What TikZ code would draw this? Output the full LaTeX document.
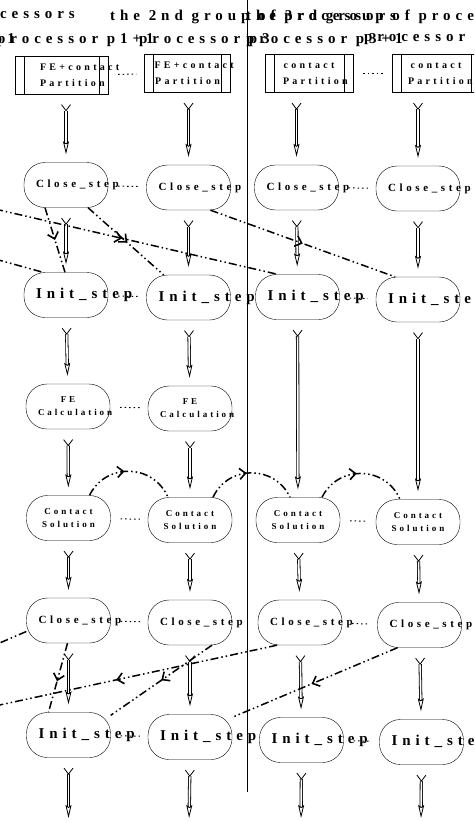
\documentclass[tikz,border=0pt]{standalone}
\usepackage{fontspec}
\setmainfont{Liberation Serif}
\newfontfamily\spacedfont[LetterSpace=33]{Liberation Serif}
\usetikzlibrary{arrows.meta,decorations.markings}
\hyphenpenalty=10000
\exhyphenpenalty=10000

\begin{document}
\begin{tikzpicture}[x=1pt, y=-1pt,
    head/.style={inner sep=0pt, font=\spacedfont\bfseries\fontsize{15}{18}\selectfont},
    procbox/.style={draw, rectangle, minimum height=38pt, minimum width=86pt,
        text width=66pt, inner xsep=10pt, inner ysep=0pt, align=center,
        font=\spacedfont\bfseries\fontsize{10}{16}\selectfont,
        path picture={
            \draw ([xshift=9pt]path picture bounding box.north west) -- ([xshift=9pt]path picture bounding box.south west);
            \draw ([xshift=-9pt]path picture bounding box.north east) -- ([xshift=-9pt]path picture bounding box.south east);}},
    stage/.style={draw, rectangle, rounded corners=21pt, minimum height=45pt,
        text width=60pt, inner xsep=12pt, inner ysep=0pt, align=center},
    closenode/.style={stage, font=\spacedfont\bfseries\fontsize{11}{13}\selectfont},
    initnode/.style={stage, font=\spacedfont\bfseries\fontsize{15}{17}\selectfont},
    calcnode/.style={stage, font=\spacedfont\bfseries\fontsize{9}{13}\selectfont},
    flow/.style={double, double distance=1.6pt, line width=0.8pt, shorten <=10pt, shorten >=8pt,
        {Straight Barb[reversed,length=6pt,width=9pt]}-{Stealth[open,length=13pt,width=6pt,inset=2pt]}},
    msgline/.style={line width=1.5pt, dash pattern=on 8pt off 3pt on 1.5pt off 3pt on 1.5pt off 3pt},
    msg/.style={msgline, postaction={decorate}, decoration={markings,
        mark=at position #1 with {\arrow[line width=1.6pt]{Straight Barb[length=6pt,width=11pt]}}}},
    msg/.default=0.5,
    gap/.style={line width=1pt, dash pattern=on 1.5pt off 3pt, shorten <=10pt, shorten >=8pt}]

    \useasboundingbox (0,0) rectangle (474,822);
    \clip (0,0) rectangle (474,822);

    % group and processor headers
    \node[head, anchor=east] (g1) at (75,17) {processors};
    \node[head, anchor=west] (g2) at (110,17) {the 2nd group of processors};
    \node[head, anchor=west] (g3) at (246,17) {the 3rd group of processors};
    \node[head, anchor=east] (p0) at (15,40) {processor p1};
    \node[head, anchor=west] (p1) at (-3,40) {processor p1+1};
    \node[head, anchor=west] (p2) at (139,40) {processor p3};
    \node[head, anchor=west] (p3) at (246,40) {processor p3+1};
    \node[head, anchor=west] (p4) at (364,40) {processor};

    % group separator
    \draw (247,0) -- (247,792);

    % partition
    \node[procbox, minimum width=93pt, text width=43pt] (b1) at (61.5,75) {FE+contact\\Partition};
    \node[procbox] (b2) at (187.5,73.5) {FE+contact\\Partition};
    \node[procbox, minimum width=88pt, text width=52pt] (b3) at (309,73.5) {contact\\Partition};
    \node[procbox, minimum width=88pt, text width=56pt] (b4) at (436,73.5) {contact\\Partition};

    % first time step
    \node[closenode] (c11) at (66,185) {Close\_step};
    \node[closenode] (c12) at (188.5,187.5) {Close\_step};
    \node[closenode] (c13) at (296.5,187.5) {Close\_step};
    \node[closenode] (c14) at (418,188.5) {Close\_step};
    \node[initnode] (i11) at (66,295) {Init\_step};
    \node[initnode] (i12) at (188.5,297.5) {Init\_step};
    \node[initnode] (i13) at (297.5,297) {Init\_step};
    \node[initnode] (i14) at (418,299.5) {Init\_step};
    \node[calcnode] (f1) at (68,406.5) {FE\\Calculation};
    \node[calcnode] (f2) at (190,408.5) {FE\\Calculation};
    \node[calcnode] (s1) at (68.5,518) {Contact\\Solution};
    \node[calcnode] (s2) at (190,520) {Contact\\Solution};
    \node[calcnode] (s3) at (298,520) {Contact\\Solution};
    \node[calcnode] (s4) at (418,522) {Contact\\Solution};

    % next time step
    \node[closenode] (c21) at (68.5,620.5) {Close\_step};
    \node[closenode] (c22) at (190,622.5) {Close\_step};
    \node[closenode] (c23) at (300,622.5) {Close\_step};
    \node[closenode] (c24) at (419.5,625) {Close\_step};
    \node[initnode] (i21) at (68.5,735) {Init\_step};
    \node[initnode] (i22) at (190,737) {Init\_step};
    \node[initnode] (i23) at (301.5,740) {Init\_step};
    \node[initnode] (i24) at (421.5,742) {Init\_step};

    \coordinate (e1) at (68.5,826);
    \coordinate (e2) at (189,826);
    \coordinate (e3) at (301,826);
    \coordinate (e4) at (421,826);
    \coordinate (w1) at (-5,209);
    \coordinate (w2) at (-5,259);
    \coordinate (w3) at (-5,645);
    \coordinate (w4) at (-5,706);

    % processors of one group
    \draw[gap] (b1) -- (b2);
    \draw[gap] (b3) -- (b4);
    \draw[gap] (c11) -- (c12);
    \draw[gap] (c13) -- (c14);
    \draw[gap] (i11) -- (i12);
    \draw[gap] (i13) -- (i14);
    \draw[gap] (f1) -- (f2);
    \draw[gap] (s1) -- (s2);
    \draw[gap] (s3) -- (s4);
    \draw[gap] (c21) -- (c22);
    \draw[gap] (c23) -- (c24);
    \draw[gap] (i21) -- (i22);
    \draw[gap] (i23) -- (i24);

    % control flow
    \draw[flow] (b1.south -| c11) -- (c11.north);
    \draw[flow] (b2.south -| c12) -- (c12.north);
    \draw[flow] (b3.south -| c13) -- (c13.north);
    \draw[flow] (b4.south -| c14) -- (c14.north);
    \draw[flow] (c11) -- (i11);
    \draw[flow] (c12) -- (i12);
    \draw[flow] (c13) -- (i13);
    \draw[flow] (c14) -- (i14);
    \draw[flow] (i11) -- (f1);
    \draw[flow] (i12) -- (f2);
    \draw[flow] (f1) -- (s1);
    \draw[flow] (f2) -- (s2);
    \draw[flow] (i13) -- (s3);
    \draw[flow] (i14) -- (s4);
    \draw[flow] (s1) -- (c21);
    \draw[flow] (s2) -- (c22);
    \draw[flow] (s3) -- (c23);
    \draw[flow] (s4) -- (c24);
    \draw[flow] (c21) -- (i21);
    \draw[flow] (c22) -- (i22);
    \draw[flow] (c23) -- (i23);
    \draw[flow] (c24) -- (i24);
    \draw[flow] (i21.south) -- (e1);
    \draw[flow] (i22.south) -- (e2);
    \draw[flow] (i23.south) -- (e3);
    \draw[flow] (i24.south) -- (e4);

    % messages between groups
    \draw[msgline] (w2) -- ([xshift=-23pt]i11.north);
    \draw[msg=0.45] (w1) -- ([xshift=-20pt]i13.north);
    \draw[msg] ([xshift=-21pt]c11.south) -- ([xshift=-1pt]i11.north);
    \draw[msg=0.52] ([xshift=22pt]c11.south) -- ([xshift=-25pt]i12.north);
    \draw[msg] ([xshift=22pt]c12.south) -- ([xshift=-23pt]i14.north);
    \draw[msg=0.45] ([xshift=21pt]s1.north) to[bend left=65, looseness=1.2] ([xshift=-22pt]s2.north);
    \draw[msg=0.45] ([xshift=23pt]s2.north) to[bend left=65, looseness=1.2] ([xshift=-8pt]s3.north);
    \draw[msg=0.45] ([xshift=24pt]s3.north) to[bend left=65, looseness=1.2] ([xshift=-18pt]s4.north);
    \draw[msgline] ([yshift=-11pt]c21.west) -- (w3);
    \draw[msg=0.55] ([xshift=-1pt]c21.south) -- ([xshift=-20pt]i21.north);
    \draw[msg=0.57] ([xshift=-23pt]c23.south) -- (w4);
    \draw[msg] ([xshift=22pt]c22.south) -- (i21.25);
    \draw[msg=0.52] ([xshift=-22pt]c24.south) -- (i22.25);
\end{tikzpicture}
\end{document}
